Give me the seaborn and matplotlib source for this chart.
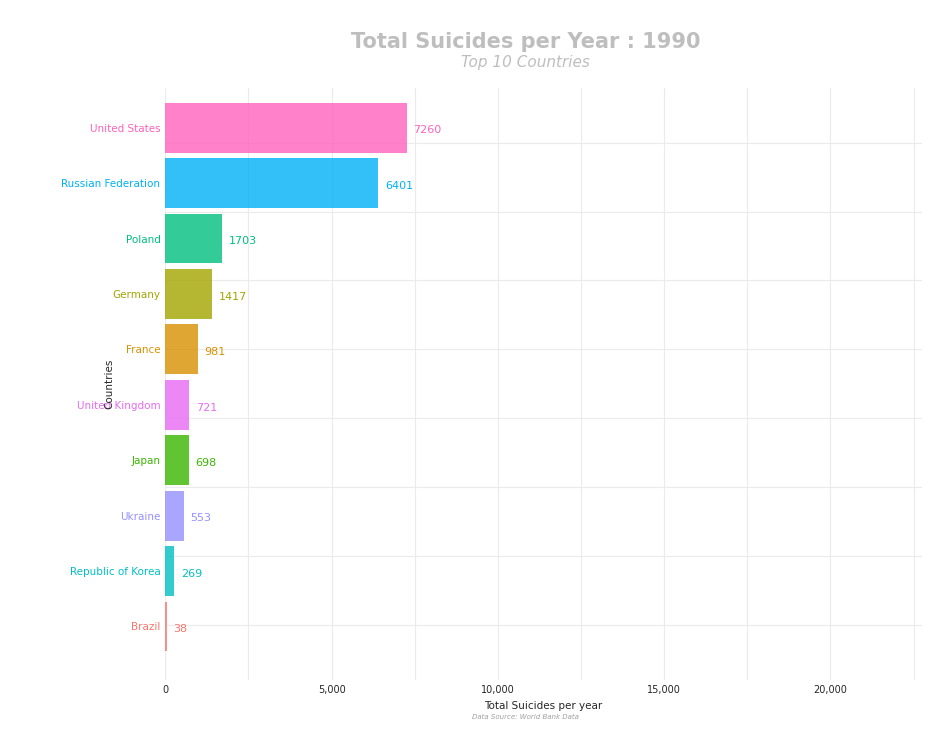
import matplotlib.pyplot as plt
import numpy as np
import pandas as pd
import seaborn as sns

sns.set_style("white")

countries = ["United States", "Russian Federation", "Poland", "Germany", "France",
             "United Kingdom", "Japan", "Ukraine", "Republic of Korea", "Brazil"]
suicides = [7260, 6401, 1703, 1417, 981, 721, 698, 553, 269, 38]
colors = ["#FF62BC", "#00B0F6", "#00BF7D", "#A3A500", "#D89000",
          "#E76BF3", "#39B600", "#9590FF", "#00BFC4", "#F8766D"]

df = pd.DataFrame({"country": countries, "total": suicides})

fig = plt.figure(figsize=(9.5, 7.5), dpi=100)
ax = fig.add_axes([0.174, 0.093, 0.796, 0.79])

sns.barplot(data=df, y="country", x="total", hue="country", palette=colors,
            saturation=1, alpha=0.8, width=0.9, linewidth=0, legend=False,
            ax=ax, zorder=3)

for i, (v, c) in enumerate(zip(suicides, colors)):
    ax.text(v + 200, i + 0.05, str(v), color=c, fontsize=8, va="center", ha="left")

ax.set_xlim(0, 22740)
ax.set_ylim(9.97, -0.72)
ax.set_xticks([0, 5000, 10000, 15000, 20000])
ax.set_xticklabels(["0", "5,000", "10,000", "15,000", "20,000"], fontsize=7)
for x in np.arange(0, 22740, 2500):
    ax.axvline(x, color="#EBEBEB", lw=0.8, zorder=0)
for y in np.arange(0.27, 9.6, 1.243):
    ax.axhline(y, color="#EBEBEB", lw=0.8, zorder=0)
ax.tick_params(axis="both", length=0)
ax.tick_params(axis="y", labelsize=7.5)
for lbl, c in zip(ax.get_yticklabels(), colors):
    lbl.set_color(c)
ax.set_xlabel("Total Suicides per year", fontsize=7.5)
ax.set_ylabel("Countries", fontsize=7.5, labelpad=-38)
sns.despine(ax=ax, left=True, bottom=True)

fig.text(0.553, 0.944, "Total Suicides per Year : 1990", fontsize=15, fontweight="bold",
         color="#BEBEBE", ha="center", va="center")
fig.text(0.553, 0.916, "Top 10 Countries", fontsize=11, style="italic",
         color="#BEBEBE", ha="center", va="center")
fig.text(0.553, 0.044, "Data Source: World Bank Data", fontsize=5, style="italic",
         color="#A0A0A0", ha="center", va="center")

plt.savefig("out.png", dpi=100)
